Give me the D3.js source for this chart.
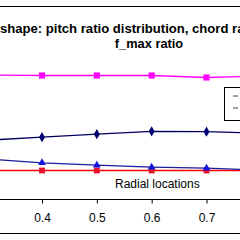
<!DOCTYPE html>
<html>
<head>
<meta charset="utf-8">
<script src="https://cdn.jsdelivr.net/npm/d3@7"></script>
<style>
  body { margin: 0; background: #fff; }
  svg { display: block; font-family: "Liberation Sans", Arial, sans-serif; }
</style>
</head>
<body>
<div id="chart"></div>
<script>
// radial locations (x) and the four ratio series
const radial = [0.3, 0.4, 0.5, 0.6, 0.7, 0.8];
const tickVals = [0.4, 0.5, 0.6, 0.7];
const seriesMagenta = [1.954, 1.950, 1.950, 1.950, 1.930, 1.945];
const seriesNavy = [1.303, 1.333, 1.363, 1.392, 1.388, 1.372];
const seriesBlue = [1.116, 1.077, 1.053, 1.033, 1.023, 1.003];
const seriesRed = [1.0, 1.0, 1.0, 1.0, 1.0, 1.0];

const width = 240, height = 240;

const svg = d3.select("#chart")
  .append("svg")
    .attr("width", width)
    .attr("height", height);

svg.append("rect").attr("width", width).attr("height", height).attr("fill", "#fff");

// chart area border (top and bottom visible)
svg.append("line").attr("x1", 0).attr("x2", width).attr("y1", 6.5).attr("y2", 6.5)
  .attr("stroke", "#000").attr("stroke-width", 1);
svg.append("line").attr("x1", 0).attr("x2", width).attr("y1", 233.5).attr("y2", 233.5)
  .attr("stroke", "#000").attr("stroke-width", 1);

// title
svg.append("text")
  .attr("x", 0).attr("y", 33.3)
  .attr("font-size", "13.1px").attr("font-weight", "bold")
  .text("shape: pitch ratio distribution, chord ratio,");
svg.append("text")
  .attr("x", 149).attr("y", 48.3)
  .attr("text-anchor", "middle")
  .attr("font-size", "12.8px").attr("font-weight", "bold")
  .text("f_max ratio");

const x = d3.scaleLinear().domain([0.4, 0.7]).range([42, 206.5]);
const y = d3.scaleLinear().domain([1, 2]).range([170.5, 70.5]);

// x axis
const axisY = 199.5;
const ax = svg.append("g")
  .attr("transform", `translate(0,${axisY})`)
  .call(d3.axisBottom(x).tickValues(tickVals).tickSize(4).tickPadding(10).tickFormat(d3.format(".1f")));
ax.select(".domain").remove();
ax.selectAll("text").attr("font-size", "12px").attr("font-family", "Liberation Sans, Arial, sans-serif").attr("fill", "#000");
svg.append("line").attr("x1", 0).attr("x2", width).attr("y1", axisY).attr("y2", axisY)
  .attr("stroke", "#000").attr("stroke-width", 1);

svg.append("text")
  .attr("x", 115).attr("y", 188.3)
  .attr("font-size", "12px")
  .text("Radial locations");

const line = d3.line().x((d, i) => x(radial[i])).y(d => y(d));

const series = [
  {vals: seriesRed, stroke: "#ff0000", marker: "#e8102a", sym: d3.symbolSquare, size: 34},
  {vals: seriesBlue, stroke: "#1c1c9c", marker: "#1414d8", sym: d3.symbolTriangle, size: 26},
  {vals: seriesNavy, stroke: "#000060", marker: "#000070", sym: d3.symbolDiamond, size: 30},
  {vals: seriesMagenta, stroke: "#ff00ff", marker: "#ff00ff", sym: d3.symbolSquare, size: 38}
];

series.forEach(s => {
  svg.append("path")
    .datum(s.vals)
    .attr("d", line)
    .attr("fill", "none")
    .attr("stroke", s.stroke)
    .attr("stroke-width", 1.3);
  svg.append("g")
    .selectAll("path")
    .data(s.vals)
    .join("path")
      .attr("transform", (d, i) => `translate(${x(radial[i])},${y(d)})`)
      .attr("d", d3.symbol().type(s.sym).size(s.size))
      .attr("fill", s.marker);
});

// legend box (cut off at the right edge)
svg.append("rect")
  .attr("x", 224.5).attr("y", 87.5).attr("width", 30).attr("height", 33)
  .attr("fill", "#fff").attr("stroke", "#000").attr("stroke-width", 1);
[96, 108].forEach(ly => {
  svg.append("line").attr("x1", 233).attr("x2", 238).attr("y1", ly).attr("y2", ly)
    .attr("stroke", "#444").attr("stroke-width", 1);
});
</script>
</body>
</html>
